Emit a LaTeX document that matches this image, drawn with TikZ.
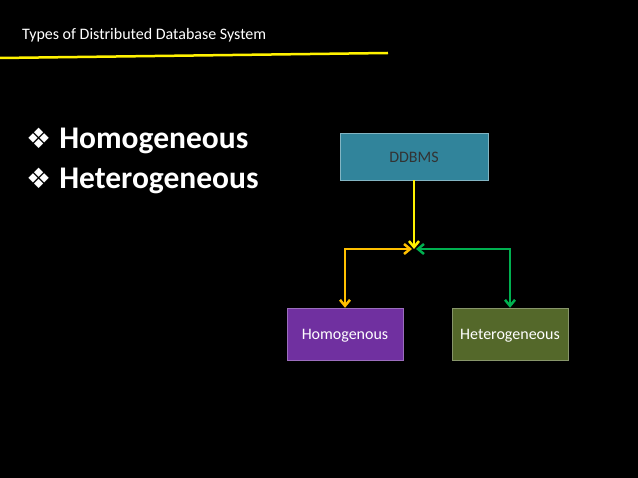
\documentclass[tikz,border=0pt]{standalone}
\usepackage{fontspec}
\setmainfont{Carlito}
\newfontfamily\symfont{DejaVu Sans}
\usetikzlibrary{arrows.meta}
\definecolor{ddbmsteal}{RGB}{49,132,155}
\definecolor{homopurple}{RGB}{112,48,160}
\definecolor{heteroolive}{RGB}{84,104,42}
\definecolor{linkorange}{RGB}{255,192,0}
\definecolor{linkgreen}{RGB}{0,176,80}
\begin{document}
\begin{tikzpicture}[x=1pt,y=-1pt,>={Straight Barb[length=6pt,width=10pt]},
    box/.style={draw,minimum width=116pt,minimum height=52pt,inner sep=0pt,font=\fontsize{16}{19}\selectfont,text=white,text height=12pt,text depth=0pt},
    bullet/.style={anchor=west,inner sep=0pt,text=white,font=\fontsize{31.5}{36}\selectfont\bfseries}]
    \fill[black] (0,0) rectangle (638,478);
    \useasboundingbox (0,0) rectangle (638,478);
    \node[anchor=west,inner sep=0pt,text=white,font=\fontsize{16}{19}\selectfont] (title) at (22,35) {Types of Distributed Database System};
    \draw[yellow,line width=2.5pt] (0,58) -- (388,53);
    \node[bullet] (homo) at (26,141) {{\symfont\fontsize{28}{32}\selectfont ❖}\hspace{8pt}Homogeneous};
    \node[bullet] (hetero) at (26,181) {{\symfont\fontsize{28}{32}\selectfont ❖}\hspace{8pt}Heterogeneous};
    \node[box,fill=ddbmsteal,draw=ddbmsteal!60!white,minimum width=148pt,minimum height=47pt,text=black!80,text height=11.5pt] (ddbms) at (414,156.5) {DDBMS};
    \node[box,fill=homopurple,draw=homopurple!70!white] (homonode) at (345,334) {Homogenous};
    \node[box,fill=heteroolive,draw=heteroolive!70!white] (heteronode) at (510,334) {Heterogeneous};
    \coordinate (hub) at (414,249);
    \draw[->,yellow,line width=2.5pt] (ddbms.south) -- (hub);
    \draw[<->,linkorange,line width=2.5pt] ([xshift=-2pt]hub) -| (homonode.north);
    \draw[<->,linkgreen,line width=2.5pt] ([xshift=2pt]hub) -| (heteronode.north);
\end{tikzpicture}
\end{document}
